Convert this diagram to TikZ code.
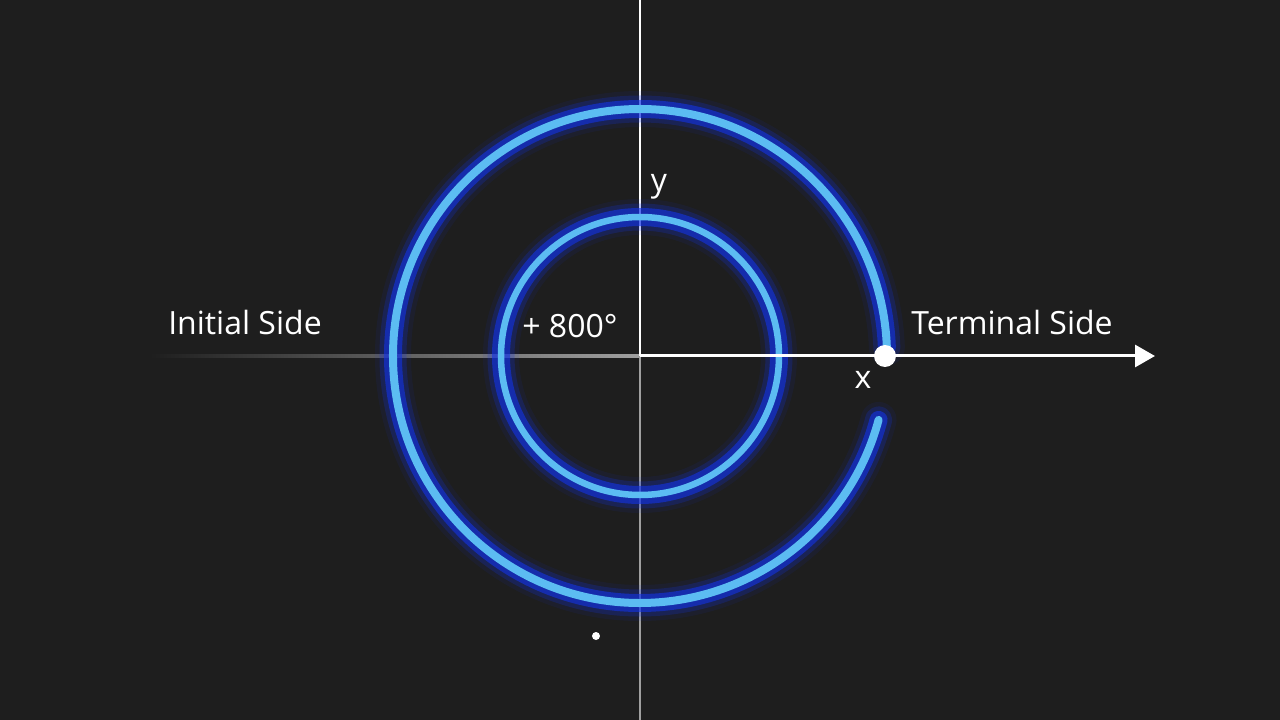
\documentclass[tikz,border=0pt]{standalone}
\usepackage{fontspec}
\setmainfont{Open Sans}
\usepackage{tikz}
\usetikzlibrary{arrows.meta}

\definecolor{bg}{HTML}{1E1E1E}
\definecolor{ringcore}{HTML}{5CBCF2}
\definecolor{ringglow}{HTML}{1233E6}
\definecolor{axisgray}{HTML}{A0A0A0}

\tikzset{
  glowwide/.style={line width=36pt,ringglow,opacity=0.08,line cap=round},
  glowmid/.style={line width=27pt,ringglow,opacity=0.22,line cap=round},
  glownear/.style={line width=18pt,ringglow,opacity=0.6,line cap=round},
  ringline/.style={line width=8pt,ringcore,line cap=round},
  label/.style={text=white,font=\fontsize{32}{38}\selectfont,inner sep=0pt}
}

\begin{document}
\begin{tikzpicture}[x=1pt,y=1pt]
\fill[bg] (-640,-364) rectangle (640,356);
\useasboundingbox (-640,-364) rectangle (640,356);

\coordinate (O) at (0,0);
\coordinate (top) at (0,356);
\coordinate (bottom) at (0,-364);
\coordinate (tip) at (515,0);

% axes
\shade[left color=bg,right color=axisgray] (-490,-1.2) rectangle (0,1.2);
\draw[axisgray,line width=2.5pt] (O) -- (bottom);
\draw[white,line width=2.5pt] (O) -- (top);

% rings
\foreach \s in {glowwide,glowmid,glownear}{
  \draw[\s] (O) circle[radius=139pt];
  \draw[\s] (O) ++(2:247) arc[start angle=2,end angle=345,radius=247pt];
}
\draw[ringline,line width=6.5pt] (O) circle[radius=139pt];
\draw[ringline] (O) ++(2:247) arc[start angle=2,end angle=345,radius=247pt];

\draw[white,line width=3pt,-{Triangle[length=20pt,width=22pt]}] (O) -- (tip);

% points
\node[circle,fill=white,minimum size=22pt,inner sep=0pt] (end) at (245,0) {};
\node[circle,fill=white,minimum size=8pt,inner sep=0pt] (spot) at (-44,-280) {};

% labels
\node[label] (ylab) at (19,169) {y};
\node[label] (xlab) at (223,-24) {x};
\node[label] (angle) at (-70,30) {+ 800°};
\node[label] (initial) at (-395,33) {Initial Side};
\node[label] (terminal) at (372,33) {Terminal Side};
\end{tikzpicture}
\end{document}
